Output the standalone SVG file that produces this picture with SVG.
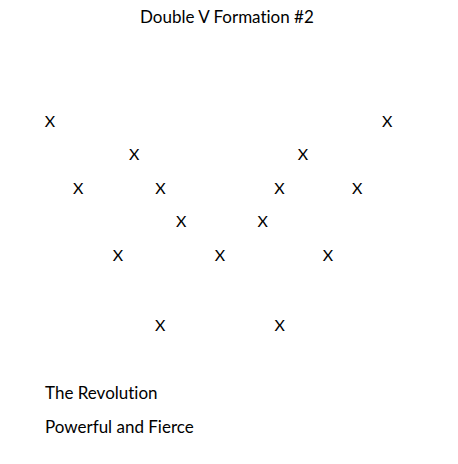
<svg xmlns="http://www.w3.org/2000/svg" width="458" height="464" viewBox="0 0 458 464">
<style>
text{font-family:Lato,"Open Sans","Liberation Sans",sans-serif;font-size:17px;fill:#000;font-variant-ligatures:none;font-feature-settings:"liga" 0,"dlig" 0}
.x{text-anchor:middle;font-size:16px}
</style>
<rect width="458" height="464" fill="#fff"/>
<text id="title" x="140" y="22.7">Double V Formation #2</text>
<g id="players">
<text class="x" x="50" y="126.7">X</text>
<text class="x" x="387.3" y="126.7">X</text>
<text class="x" x="134.3" y="160">X</text>
<text class="x" x="303" y="160">X</text>
<text class="x" x="78.3" y="193.5">X</text>
<text class="x" x="160.5" y="193.5">X</text>
<text class="x" x="279.5" y="193.5">X</text>
<text class="x" x="357.3" y="193.5">X</text>
<text class="x" x="181.3" y="227.3">X</text>
<text class="x" x="262.8" y="227.3">X</text>
<text class="x" x="118" y="260.8">X</text>
<text class="x" x="220" y="260.8">X</text>
<text class="x" x="328" y="260.8">X</text>
<text class="x" x="160.3" y="330.7">X</text>
<text class="x" x="279.7" y="330.7">X</text>
</g>
<text id="caption1" x="45" y="399.3">The Revolution</text>
<text id="caption2" x="45" y="433.3">Powerful and Fierce</text>
</svg>
